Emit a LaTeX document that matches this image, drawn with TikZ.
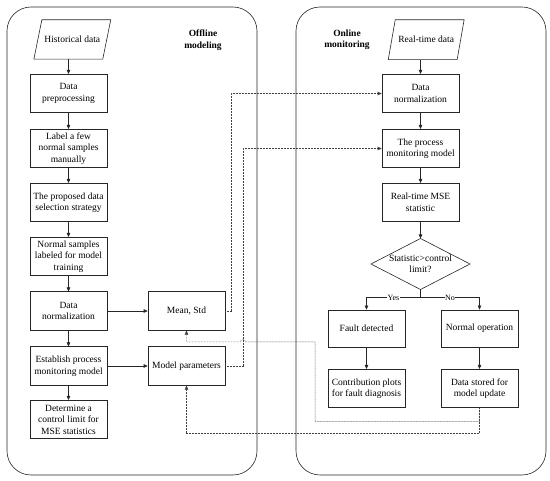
\documentclass[tikz,border=0pt]{standalone}
\usepackage{fontspec}
\setmainfont{Liberation Serif}
\usetikzlibrary{arrows.meta,calc}
\begin{document}
\begin{tikzpicture}[x=1pt,y=-1pt,
  every node/.style={font=\fontsize{9.5}{11.5}\selectfont},
  box/.style={draw=black!85,line width=0.6pt,minimum width=77pt,minimum height=38.5pt,align=center,inner sep=1pt},
  txt/.style={align=center,inner sep=0pt},
  frame/.style={draw=black!85,line width=0.6pt,rounded corners=24pt,minimum width=250pt,minimum height=468pt},
  arr/.style={-{Triangle[length=4pt,width=3.5pt]},line width=0.6pt,draw=black!85},
  dotline/.style={dash pattern=on 0.6pt off 0.9pt,line width=0.5pt,draw=black!75},
  darr/.style={dotline,-{Triangle[length=4pt,width=3.5pt]}},
  lab/.style={fill=white,inner sep=0.5pt,font=\fontsize{8}{9}\selectfont},
  title/.style={align=center,font=\fontsize{9.5}{11.5}\selectfont\bfseries}
]
\useasboundingbox (0,0) rectangle (550,481);

% containers
\node[frame] (offline) at (132,241) {};
\node[frame] (online) at (421,241) {};
\node[title] (offt) at (203,40) {Offline\\modeling};
\node[title] (ont) at (347,40) {Online\\monitoring};

% left column
\node[txt,minimum width=68.5pt,minimum height=39pt] (hist) at (72.3,39.5) {Historical data};
\draw[draw=black!85,line width=0.6pt] ([xshift=-4pt]hist.south west) -- ([xshift=4pt]hist.north west) -- ([xshift=4pt]hist.north east) -- ([xshift=-4pt]hist.south east) -- cycle;
\node[box] (prep) at (68.5,93.5) {Data\\preprocessing};
\node[box] (label) at (68.5,148.5) {Label a few\\normal samples\\manually};
\node[box] (select) at (68.5,202.5) {The proposed data\\selection strategy};
\node[box] (samples) at (68.5,256.5) {Normal samples\\labeled for model\\training};
\node[box] (lnorm) at (68.5,311) {Data\\normalization};
\node[box] (est) at (68.5,366) {Establish process\\monitoring model};
\node[box] (det) at (68.5,419.5) {Determine a\\control limit for\\MSE statistics};

\node[box] (mean) at (186.5,311) {Mean, Std};
\node[box] (param) at (186.5,366) {Model parameters};

\draw[arr] (hist.south -| prep.north) -- (prep.north);
\draw[arr] (prep) -- (label);
\draw[arr] (label) -- (select);
\draw[arr] (select) -- (samples);
\draw[arr] (samples) -- (lnorm);
\draw[arr] (lnorm) -- (est);
\draw[arr] (est) -- (det);
\draw[arr] (lnorm) -- (mean);
\draw[arr] (est) -- (param);

% right column
\node[txt,minimum width=68.5pt,minimum height=39.5pt] (rt) at (426.2,39.7) {Real-time data};
\draw[draw=black!85,line width=0.6pt] ([xshift=-3.5pt]rt.south west) -- ([xshift=3.5pt]rt.north west) -- ([xshift=3.5pt]rt.north east) -- ([xshift=-3.5pt]rt.south east) -- cycle;
\node[box] (rnorm) at (420.5,93.5) {Data\\normalization};
\node[box] (pmm) at (420.5,148.5) {The process\\monitoring model};
\node[box] (mse) at (420.5,202.5) {Real-time MSE\\statistic};
\node[txt] (dec) at (420.5,264) {Statistic>control\\limit?};
\coordinate (dtop) at (420.5,238.5);
\coordinate (dbot) at (420.5,289.5);
\coordinate (dleft) at (371,264);
\coordinate (dright) at (470,264);
\draw[draw=black!85,line width=0.6pt] (dtop) -- (dright) -- (dbot) -- (dleft) -- cycle;
\node[box,minimum height=37.5pt] (fault) at (366.5,328.7) {Fault detected};
\node[box,minimum height=37.5pt] (normal) at (479.5,328.7) {Normal operation};
\node[box] (contrib) at (366.5,388.5) {Contribution plots\\for fault diagnosis};
\node[box] (stored) at (479.5,388.5) {Data stored for\\model update};

\draw[arr] (rt.south -| rnorm.north) -- (rnorm.north);
\draw[arr] (rnorm) -- (pmm);
\draw[arr] (pmm) -- (mse);
\draw[arr] (mse) -- (dtop);
\coordinate (br) at (420.5,297.7);
\draw[draw=black!85,line width=0.6pt] (dbot) -- (br);
\draw[arr] (br) -- node[lab]{Yes} (br -| fault.north) -- (fault.north);
\draw[arr] (br) -- node[lab]{No} (br -| normal.north) -- (normal.north);
\draw[arr] (fault) -- (contrib);
\draw[arr] (normal) -- (stored);

% dotted feedback lines
\draw[darr] (mean.east) -- ++(6,0) |- (rnorm.west);
\draw[darr] (param.east) -- ++(18,0) |- (pmm.west);
\coordinate (c1) at (315,342);
\draw[darr] (stored.south) -- ++(0,13.5) -| (c1) -- (245.5,342) arc[start angle=0,end angle=180,radius=2.5pt] -- (mean.south |- c1) -- (mean.south);
\draw[darr] (stored.south) -- ++(0,25) -| (param.south);
\end{tikzpicture}
\end{document}
